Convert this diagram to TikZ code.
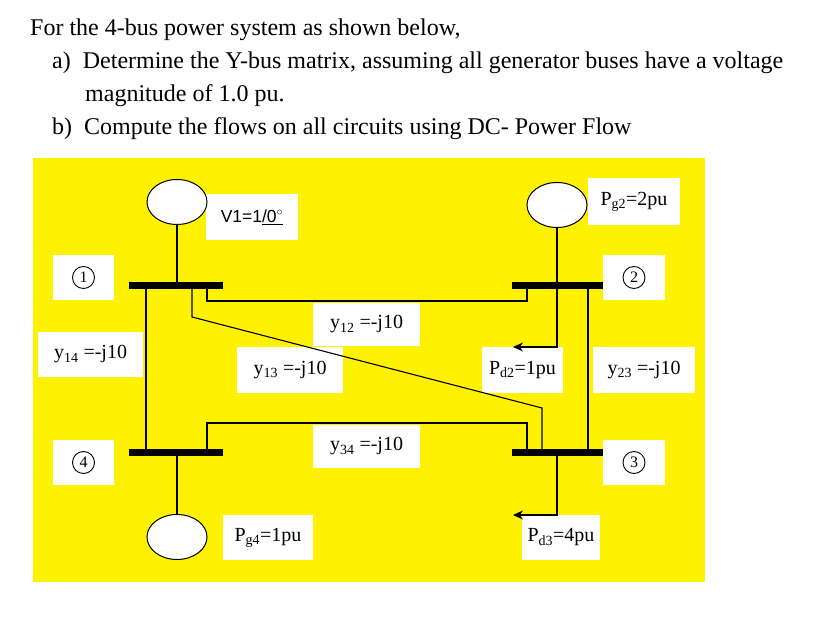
\documentclass[tikz,border=0pt]{standalone}
\usepackage{fontspec}
\setmainfont{Liberation Serif}
\newfontfamily\sansf{Liberation Sans}
\usetikzlibrary{arrows.meta, shapes.geometric}
\begin{document}
\begin{tikzpicture}[x=1pt, y=-1pt,
    wbox/.style={fill=white, draw=none, inner sep=0pt, font=\fontsize{20}{20}\selectfont},
    bus/.style={line width=7pt},
    wire/.style={line width=1.1pt},
    gen/.style={ellipse, draw, fill=white, line width=1pt, minimum width=60pt, minimum height=45pt, inner sep=0pt},
    num/.style={circle, draw, line width=0.9pt, minimum size=22pt, inner sep=0pt, font=\fontsize{16}{16}\selectfont},
    head/.style={anchor=base west, inner sep=0pt, font=\fontsize{24}{24}\selectfont}]
        \useasboundingbox (0,0) rectangle (831,628);

        % Question text
        \node[head] (q0) at (30,36) {For the 4-bus power system as shown below,};
        \node[head] (q1) at (52,69) {a)\ \ Determine the Y-bus matrix, assuming all generator buses have a voltage};
        \node[head] (q2) at (85,102) {magnitude of 1.0 pu.};
        \node[head] (q3) at (52,135) {b)\ \ Compute the flows on all circuits using DC- Power Flow};

        % Yellow background
        \fill[yellow] (33,158) rectangle (705,582);

        % White label boxes
        \node[wbox, minimum width=92pt, minimum height=46pt, font=\sansf\fontsize{17.5}{17.5}\selectfont] (v1) at (252,217) {V1=1\underline{/0$^\circ$}};
        \node[wbox, minimum width=61pt, minimum height=45pt] (b1) at (83.5,277.5) {};
        \node[wbox, minimum width=61pt, minimum height=45pt] (b4) at (83.5,462.5) {};
        \node[wbox, minimum width=62pt, minimum height=45pt] (b2) at (634,277.5) {};
        \node[wbox, minimum width=62pt, minimum height=45pt] (b3) at (634,462.5) {};
        \node[num] (n1) at (b1) {1};
        \node[num] (n4) at (b4) {4};
        \node[num] (n2) at (b2) {2};
        \node[num] (n3) at (b3) {3};
        \node[wbox, minimum width=107pt, minimum height=43pt] (y12) at (366.5,324.5) {y\textsubscript{12} =-j10};
        \node[wbox, minimum width=105pt, minimum height=45pt] (y14) at (90.5,354.5) {y\textsubscript{14} =-j10};
        \node[wbox, minimum width=106pt, minimum height=46pt] (y13) at (290,370) {y\textsubscript{13} =-j10};
        \node[wbox, minimum width=107pt, minimum height=43pt] (y34) at (366.5,446.5) {y\textsubscript{34} =-j10};
        \node[wbox, minimum width=102pt, minimum height=46pt] (y23) at (644,370) {y\textsubscript{23} =-j10};
        \node[wbox, minimum width=81pt, minimum height=46pt] (pd2) at (522.5,370) {P\textsubscript{d2}=1pu};
        \node[wbox, minimum width=92pt, minimum height=47pt] (pg2) at (634,201.5) {P\textsubscript{g2}=2pu};
        \node[wbox, minimum width=90pt, minimum height=45pt] (pg4) at (268,537.5) {P\textsubscript{g4}=1pu};
        \node[wbox, minimum width=78pt, minimum height=45pt] (pd3) at (561,537.5) {P\textsubscript{d3}=4pu};

        % Bus bars
        \coordinate (bus1w) at (129,286); \coordinate (bus1e) at (223,286);
        \coordinate (bus2w) at (512,286); \coordinate (bus2e) at (603,286);
        \coordinate (bus3w) at (512,453); \coordinate (bus3e) at (603,453);
        \coordinate (bus4w) at (129,453); \coordinate (bus4e) at (223,453);
        \draw[bus] (bus1w) -- (bus1e);
        \draw[bus] (bus2w) -- (bus2e);
        \draw[bus] (bus3w) -- (bus3e);
        \draw[bus] (bus4w) -- (bus4e);

        % Generators
        \node[gen] (g1) at (177,202) {};
        \node[gen] (g2) at (557,205) {};
        \node[gen] (g4) at (177,537) {};
        \draw[wire] (g1) -- (g1 |- bus1w);
        \draw[wire] (g2) -- (g2 |- bus2w);
        \draw[wire] (g4) -- (g4 |- bus4w);

        % Loads
        \coordinate (l2) at (557,347); \coordinate (l2e) at (513,347);
        \coordinate (l3) at (557,515); \coordinate (l3e) at (513,515);
        \draw[wire, -{Stealth[length=10pt, width=9pt]}] (l2 |- bus2w) -- (l2) -- (l2e);
        \draw[wire, -{Stealth[length=10pt, width=9pt]}] (l3 |- bus3w) -- (l3) -- (l3e);

        % Lines
        \draw[wire] (146,286) -- (146,453);
        \draw[wire] (588,286) -- (588,453);
        \draw[wire] (207,286) -- (207,301) -- (527,301) -- (527,286);
        \draw[wire] (207,453) -- (207,423) -- (527,423) -- (527,453);
        \draw[wire] (192,286) -- (192,317) -- (542,408) -- (542,453);
        \end{tikzpicture}
\end{document}
